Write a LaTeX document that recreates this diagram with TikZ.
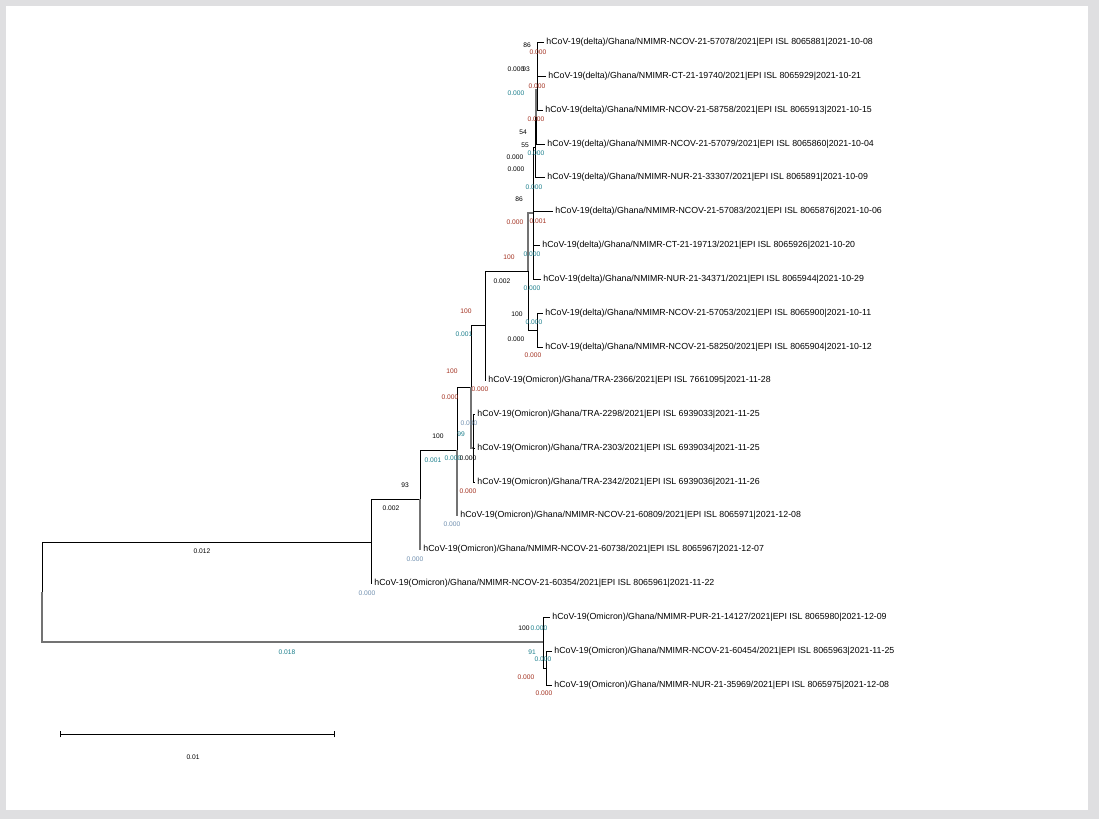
\documentclass[tikz,border=0pt]{standalone}
\usepackage{fontspec}
\setmainfont{Liberation Sans}
\definecolor{bred}{HTML}{A3301F}
\definecolor{bteal}{HTML}{1B7F8C}
\definecolor{bblue}{HTML}{6F8FAF}
\definecolor{framegray}{HTML}{DFDFE1}
\tikzset{
  br/.style={line width=0.75pt, black},
  gbr/.style={line width=0.95pt, black!55},
  leaf/.style={anchor=west, inner xsep=1.6pt, inner ysep=0pt, text height=4.6pt, text depth=1.2pt, font=\fontsize{6.6}{7}\selectfont},
  lab/.style={inner sep=0pt, font=\fontsize{5}{5}\selectfont},
}
\begin{document}
\begin{tikzpicture}[x=0.75pt,y=-0.75pt]
\useasboundingbox (0,0) rectangle (1099,819);
\fill[framegray] (0,0) rectangle (1099,819);
\fill[white] (6,6) rectangle (1088,810);

% internal nodes
\coordinate (R) at (42,592);
\coordinate (C) at (371,542);
\coordinate (D) at (420,499);
\coordinate (E) at (457,450);
\coordinate (F) at (471,387);
\coordinate (G) at (473,448);
\coordinate (H) at (485,325);
\coordinate (I) at (528,271);
\coordinate (K) at (537,330);
\coordinate (J) at (533,213);
\coordinate (L) at (535,147);
\coordinate (M) at (536,117);
\coordinate (N) at (537,90);
\coordinate (P) at (537,59);
\coordinate (A) at (543,642);
\coordinate (B) at (546,668);

% leaves
\node[leaf] (l1) at (544,42) {hCoV-19(delta)/Ghana/NMIMR-NCOV-21-57078/2021|EPI ISL 8065881|2021-10-08};
\node[leaf] (l2) at (546,76) {hCoV-19(delta)/Ghana/NMIMR-CT-21-19740/2021|EPI ISL 8065929|2021-10-21};
\node[leaf] (l3) at (543,110) {hCoV-19(delta)/Ghana/NMIMR-NCOV-21-58758/2021|EPI ISL 8065913|2021-10-15};
\node[leaf] (l4) at (545,144) {hCoV-19(delta)/Ghana/NMIMR-NCOV-21-57079/2021|EPI ISL 8065860|2021-10-04};
\node[leaf] (l5) at (545,177) {hCoV-19(delta)/Ghana/NMIMR-NUR-21-33307/2021|EPI ISL 8065891|2021-10-09};
\node[leaf] (l6) at (553,211) {hCoV-19(delta)/Ghana/NMIMR-NCOV-21-57083/2021|EPI ISL 8065876|2021-10-06};
\node[leaf] (l7) at (540,245) {hCoV-19(delta)/Ghana/NMIMR-CT-21-19713/2021|EPI ISL 8065926|2021-10-20};
\node[leaf] (l8) at (541,279) {hCoV-19(delta)/Ghana/NMIMR-NUR-21-34371/2021|EPI ISL 8065944|2021-10-29};
\node[leaf] (l9) at (543,313) {hCoV-19(delta)/Ghana/NMIMR-NCOV-21-57053/2021|EPI ISL 8065900|2021-10-11};
\node[leaf] (l10) at (543,347) {hCoV-19(delta)/Ghana/NMIMR-NCOV-21-58250/2021|EPI ISL 8065904|2021-10-12};
\node[leaf] (l11) at (486,380) {hCoV-19(Omicron)/Ghana/TRA-2366/2021|EPI ISL 7661095|2021-11-28};
\node[leaf] (l12) at (475,414) {hCoV-19(Omicron)/Ghana/TRA-2298/2021|EPI ISL 6939033|2021-11-25};
\node[leaf] (l13) at (475,448) {hCoV-19(Omicron)/Ghana/TRA-2303/2021|EPI ISL 6939034|2021-11-25};
\node[leaf] (l14) at (475,482) {hCoV-19(Omicron)/Ghana/TRA-2342/2021|EPI ISL 6939036|2021-11-26};
\node[leaf] (l15) at (458,515) {hCoV-19(Omicron)/Ghana/NMIMR-NCOV-21-60809/2021|EPI ISL 8065971|2021-12-08};
\node[leaf] (l16) at (421,549) {hCoV-19(Omicron)/Ghana/NMIMR-NCOV-21-60738/2021|EPI ISL 8065967|2021-12-07};
\node[leaf] (l17) at (372,583) {hCoV-19(Omicron)/Ghana/NMIMR-NCOV-21-60354/2021|EPI ISL 8065961|2021-11-22};
\node[leaf] (l18) at (550,617) {hCoV-19(Omicron)/Ghana/NMIMR-PUR-21-14127/2021|EPI ISL 8065980|2021-12-09};
\node[leaf] (l19) at (552,651) {hCoV-19(Omicron)/Ghana/NMIMR-NCOV-21-60454/2021|EPI ISL 8065963|2021-11-25};
\node[leaf] (l20) at (552,685) {hCoV-19(Omicron)/Ghana/NMIMR-NUR-21-35969/2021|EPI ISL 8065975|2021-12-08};

% branches
\draw[br] (R) |- (C);
\draw[gbr] (R) |- (A);
\draw[br] (C) |- (D);
\draw[br] (C) |- (l17.west);
\draw[br] (D) |- (E);
\draw[gbr] (D) |- (l16.west);
\draw[br] (E) |- (F);
\draw[gbr] (E) |- (l15.west);
\draw[br] (F) |- (H);
\draw[gbr] (F) |- (G);
\draw[br] (G) |- (l12.west);
\draw[br] (G) |- (l13.west);
\draw[br] (G) |- (l14.west);
\draw[br] (H) |- (I);
\draw[br] (H) |- (l11.west);
\draw[gbr] (I) |- (J);
\draw[br] (I) |- (K);
\draw[br] (K) |- (l9.west);
\draw[br] (K) |- (l10.west);
\draw[br] (J) |- (L);
\draw[br] (J) |- (l6.west);
\draw[br] (J) |- (l7.west);
\draw[br] (J) |- (l8.west);
\draw[br] (L) |- (M);
\draw[br] (L) |- (l5.west);
\draw[gbr] (M) |- (N);
\draw[br] (M) |- (l4.west);
\draw[br] (N) |- (P);
\draw[br] (N) |- (l3.west);
\draw[br] (P) |- (l1.west);
\draw[br] (P) |- (l2.west);
\draw[br] (A) |- (l18.west);
\draw[br] (A) |- (B);
\draw[br] (B) |- (l19.west);
\draw[br] (B) |- (l20.west);

% labels
\node[lab] (b1) at (527,45) {86};
\node[lab, text=bred] (b2) at (538,52) {0.000};
\node[lab] (b3) at (516,69) {0.000};
\node[lab] (b4) at (526,69) {93};
\node[lab, text=bred] (b5) at (537,86) {0.000};
\node[lab, text=bteal] (b6) at (516,93) {0.000};
\node[lab, text=bred] (b7) at (536,119) {0.000};
\node[lab] (b8) at (523,132) {54};
\node[lab] (b9) at (525,145) {55};
\node[lab] (b10) at (515,157) {0.000};
\node[lab, text=bteal] (b11) at (536,153) {0.000};
\node[lab] (b12) at (516,169) {0.000};
\node[lab, text=bteal] (b13) at (534,187) {0.000};
\node[lab] (b14) at (519,199) {86};
\node[lab, text=bred] (b15) at (515,222) {0.000};
\node[lab, text=bred] (b16) at (538,221) {0.001};
\node[lab, text=bred] (b17) at (509,257) {100};
\node[lab, text=bteal] (b18) at (532,254) {0.000};
\node[lab] (b19) at (502,281) {0.002};
\node[lab, text=bteal] (b20) at (532,288) {0.000};
\node[lab] (b21) at (517,314) {100};
\node[lab, text=bteal] (b22) at (534,322) {0.000};
\node[lab] (b23) at (516,339) {0.000};
\node[lab, text=bred] (b24) at (533,355) {0.000};
\node[lab, text=bred] (b25) at (466,311) {100};
\node[lab, text=bteal] (b26) at (464,334) {0.001};
\node[lab, text=bred] (b27) at (452,371) {100};
\node[lab, text=bred] (b28) at (450,397) {0.000};
\node[lab, text=bred] (b29) at (480,389) {0.000};
\node[lab, text=bblue] (b30) at (469,423) {0.000};
\node[lab, text=bteal] (b31) at (461,434) {99};
\node[lab, text=bteal] (b32) at (453,458) {0.000};
\node[lab] (b33) at (468,458) {0.000};
\node[lab, text=bred] (b34) at (468,491) {0.000};
\node[lab, text=bblue] (b35) at (452,524) {0.000};
\node[lab] (b36) at (438,436) {100};
\node[lab, text=bteal] (b37) at (433,460) {0.001};
\node[lab] (b38) at (405,485) {93};
\node[lab] (b39) at (391,508) {0.002};
\node[lab, text=bblue] (b40) at (415,559) {0.000};
\node[lab, text=bblue] (b41) at (367,593) {0.000};
\node[lab] (b42) at (202,551) {0.012};
\node[lab, text=bteal] (b43) at (287,652) {0.018};
\node[lab] (b44) at (524,628) {100};
\node[lab, text=bteal] (b45) at (539,628) {0.000};
\node[lab, text=bteal] (b46) at (532,652) {91};
\node[lab, text=bteal] (b47) at (543,659) {0.000};
\node[lab, text=bred] (b48) at (526,677) {0.000};
\node[lab, text=bred] (b49) at (544,693) {0.000};

% scale bar
\coordinate (s1) at (60,734);
\coordinate (s2) at (334,734);
\draw[br] (s1) -- (s2);
\draw[br] ([yshift=-2.6pt]s1) -- ([yshift=2.6pt]s1);
\draw[br] ([yshift=-2.6pt]s2) -- ([yshift=2.6pt]s2);
\node[lab] (sl) at (193,757) {0.01};
\end{tikzpicture}
\end{document}
